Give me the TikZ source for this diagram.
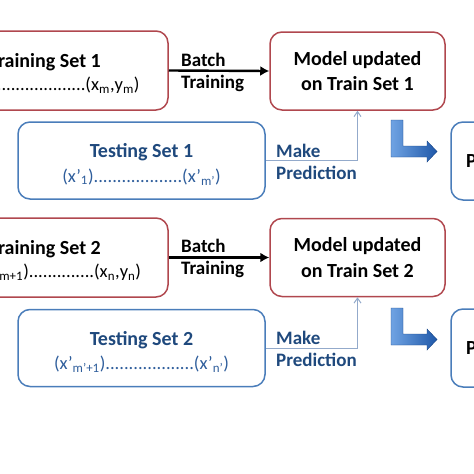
\documentclass[tikz,border=0pt]{standalone}
\usepackage{fontspec}
\setmainfont{Carlito}
\usetikzlibrary{arrows.meta}

\definecolor{trainred}{HTML}{B0474E}
\definecolor{testblue}{HTML}{4A7DBA}
\definecolor{darkblue}{HTML}{1F497D}
\definecolor{pairblue}{HTML}{2F5E9C}
\definecolor{linkgray}{HTML}{93AACB}
\definecolor{arrowlight}{HTML}{6FA3E3}
\definecolor{arrowdark}{HTML}{1F58A9}

\newcommand{\titlefont}{\fontsize{20}{24}\selectfont\bfseries}
\newcommand{\pairfont}{\fontsize{18.5}{22}\selectfont}

\tikzset{
  trainbox/.style={draw=trainred, line width=1.5pt, rounded corners=12pt, fill=white,
    minimum width=246pt, minimum height=79pt, align=center, inner sep=0pt,
    font=\fontsize{18}{23}\selectfont},
  modelbox/.style={draw=trainred, line width=1.5pt, rounded corners=12pt, fill=white,
    minimum width=175pt, minimum height=78pt, align=center, inner sep=0pt,
    font=\fontsize{20}{25.5}\selectfont\bfseries},
  testbox/.style={draw=testblue, line width=1.5pt, rounded corners=12pt, fill=white,
    minimum width=247pt, minimum height=77pt, align=center, inner sep=0pt,
    font=\fontsize{18}{24.5}\selectfont},
  outbox/.style={draw=testblue, line width=1.5pt, rounded corners=12pt, fill=white,
    minimum height=78pt, text width=145pt, inner xsep=15pt, align=left,
    font=\fontsize{20}{24}\selectfont\bfseries},
  steplabel/.style={anchor=west, align=left, inner sep=0pt,
    font=\fontsize{19}{22}\selectfont\bfseries},
  batcharrow/.style={line width=2.4pt, -{Latex[length=9pt,width=10pt]}},
  predictarrow/.style={linkgray, line width=1pt, -{Straight Barb[length=5pt,width=7pt]}},
  bentarrow/.style={left color=arrowlight, right color=arrowdark, draw=arrowdark!80!black, line width=0.4pt}
}

\begin{document}
\begin{tikzpicture}[x=1pt, y=-1pt]
  \useasboundingbox (0,0) rectangle (474,474);
  \clip (0,0) rectangle (474,474);

  % First round
  \node[trainbox] (train1) at (45,70.5)
    {\rule{0pt}{20pt}{\titlefont Training Set 1}\\
     {\pairfont (x\textsubscript{1},y\textsubscript{1})...................(x\textsubscript{m},y\textsubscript{m})}};
  \node[modelbox] (model1) at (357.5,71) {Model updated\\on Train Set 1};
  \node[testbox] (test1) at (141.5,160.5)
    {\rule{0pt}{22pt}{\titlefont\color{darkblue} Testing Set 1}\\
     {\pairfont\color{pairblue} (x'\textsubscript{1})...................(x'\textsubscript{m'})}};
  \node[outbox] (out1) at (538.5,161) {P};

  \draw[batcharrow] (train1.east) -- (model1.west);
  \node[steplabel] (batch1) at (181,72) {Batch\\Training};

  \draw[predictarrow] (test1.east) -| (model1.south);
  \node[steplabel, text=darkblue] (predict1) at (276,161.5) {Make\\Prediction};

  \draw[bentarrow] (391,120) -- (403,120) -- (403,146) -- (427,146) -- (427,141)
    -- (437,151.5) -- (427,162) -- (427,157) -- (391,157) -- cycle;

  % Second round
  \node[trainbox] (train2) at (45,257.5)
    {\rule{0pt}{20pt}{\titlefont Training Set 2}\\
     {\pairfont (x\textsubscript{m+1},y\textsubscript{m+1})..............(x\textsubscript{n},y\textsubscript{n})}};
  \node[modelbox] (model2) at (357.5,257.5) {Model updated\\on Train Set 2};
  \node[testbox] (test2) at (141.5,348)
    {\rule{0pt}{22pt}{\titlefont\color{darkblue} Testing Set 2}\\
     {\pairfont\color{pairblue} (x'\textsubscript{m'+1})...................(x'\textsubscript{n'})}};
  \node[outbox] (out2) at (538.5,348) {P};

  \draw[batcharrow] (train2.east) -- (model2.west);
  \node[steplabel] (batch2) at (181,258.5) {Batch\\Training};

  \draw[predictarrow] (test2.east) -| (model2.south);
  \node[steplabel, text=darkblue] (predict2) at (276,348.5) {Make\\Prediction};

  \draw[bentarrow] (391,308) -- (403,308) -- (403,334) -- (427,334) -- (427,329)
    -- (437,339.5) -- (427,350) -- (427,345) -- (391,345) -- cycle;
\end{tikzpicture}
\end{document}
